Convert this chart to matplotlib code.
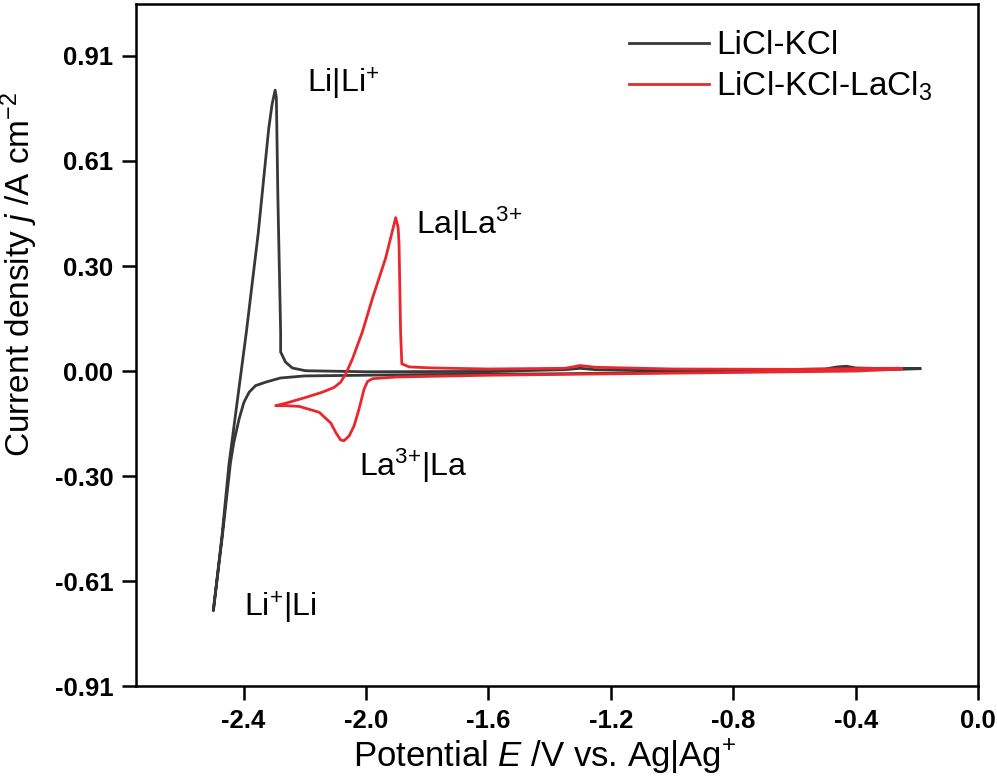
import matplotlib
matplotlib.use("Agg")
import matplotlib.pyplot as plt
import numpy as np

# LiCl-KCl (blank), one CV cycle
licl_x = [-0.19, -0.30, -0.40, -0.44, -0.48, -0.60, -0.80, -1.00, -1.20, -1.40,
          -1.60, -1.80, -2.00, -2.10, -2.20, -2.28, -2.328, -2.361, -2.382,
          -2.399, -2.415, -2.432, -2.443, -2.470, -2.499,
          -2.470, -2.448, -2.391, -2.352, -2.318, -2.307, -2.297,
          -2.293, -2.288, -2.279, -2.279, -2.263, -2.241, -2.198, -2.00,
          -1.60, -1.35, -1.30, -1.25, -1.00, -0.80, -0.50, -0.46, -0.43,
          -0.40, -0.30, -0.19]
licl_y = [0.007, 0.004, 0.004, 0.008, 0.003, 0.000, -0.002, -0.004, -0.006, -0.008,
          -0.009, -0.010, -0.012, -0.013, -0.014, -0.020, -0.032, -0.042, -0.061,
          -0.090, -0.139, -0.206, -0.265, -0.480, -0.692,
          -0.470, -0.270, 0.113, 0.400, 0.700, 0.770, 0.811,
          0.790, 0.500, 0.113, 0.055, 0.026, 0.009, 0.001, -0.002,
          -0.001, 0.004, 0.008, 0.004, 0.002, 0.002, 0.006, 0.012, 0.014,
          0.009, 0.007, 0.007]

# LiCl-KCl-LaCl3
lacl_x = [-0.25, -0.40, -0.80, -1.20, -1.60, -1.90, -1.979, -1.995, -2.006,
          -2.023, -2.039, -2.055, -2.072, -2.083, -2.099, -2.115, -2.153,
          -2.218, -2.260, -2.295,
          -2.251, -2.197, -2.143, -2.104, -2.083, -2.066, -2.044, -2.012,
          -1.979, -1.936, -1.914, -1.903, -1.895, -1.892, -1.887, -1.883,
          -1.859, -1.783, -1.60, -1.35, -1.30, -1.25, -1.00, -0.60, -0.30, -0.25]
lacl_y = [0.006, 0.000, -0.004, -0.008, -0.012, -0.017, -0.022, -0.030, -0.051,
          -0.110, -0.158, -0.187, -0.201, -0.199, -0.177, -0.150, -0.119,
          -0.102, -0.100, -0.100,
          -0.090, -0.076, -0.061, -0.047, -0.032, -0.008, 0.036, 0.113,
          0.210, 0.326, 0.404, 0.443, 0.414, 0.365, 0.113, 0.021,
          0.012, 0.009, 0.006, 0.008, 0.016, 0.011, 0.006, 0.005, 0.008, 0.008]

xticks = [-2.4, -2.0, -1.6, -1.2, -0.8, -0.4, 0.0]
yticks = [-0.91, -0.6067, -0.3033, 0.0, 0.3033, 0.6067, 0.91]

plt.rcParams['font.family'] = ['Liberation Sans', 'DejaVu Sans']
plt.rcParams['mathtext.fontset'] = 'custom'
plt.rcParams['mathtext.rm'] = 'Liberation Sans'
plt.rcParams['mathtext.it'] = 'Liberation Sans:italic'
plt.rcParams['mathtext.default'] = 'regular'

fig = plt.figure(figsize=(9.97, 7.79), dpi=100)
ax = fig.add_axes([0.136, 0.119, 0.845, 0.876])

ax.plot(licl_x, licl_y, color='#383838', lw=2.0, label='LiCl-KCl')
ax.plot(lacl_x, lacl_y, color='#e8282d', lw=2.0, label='LiCl-KCl-LaCl$_3$')

ax.set_xlim(-2.753, 0.0)
ax.set_ylim(-0.91, 1.06)
ax.set_xticks(xticks)
ax.set_xticklabels(['%.1f' % v for v in xticks])
ax.set_yticks(yticks)
ax.set_yticklabels(['%.2f' % v for v in yticks])

for s in ax.spines.values():
    s.set_linewidth(1.8)
ax.tick_params(direction='out', length=10, width=1.8, pad=6, labelsize=18.5)
for lab in ax.get_xticklabels() + ax.get_yticklabels():
    lab.set_fontweight('bold')

ax.set_xlabel('Potential $\\mathit{E}$ /V vs. Ag|Ag$^{+}$', fontsize=25)
ax.set_ylabel('Current density $\\mathit{j}$ /A cm$^{-2}$', fontsize=24)
ax.xaxis.set_label_coords(0.486, -0.075)
ax.yaxis.set_label_coords(-0.114, 0.604)

ax.text(-2.192, 0.805, 'Li|Li$^{+}$', fontsize=23, ha='left', va='baseline')
ax.text(-1.838, 0.395, 'La|La$^{3{+}}$', fontsize=23, ha='left', va='baseline')
ax.text(-2.022, -0.302, 'La$^{3{+}}$|La', fontsize=23, ha='left', va='baseline')
ax.text(-2.398, -0.709, 'Li$^{+}$|Li', fontsize=23, ha='left', va='baseline')

ax.legend(loc='upper left', bbox_to_anchor=(0.5696, 0.981), frameon=False,
          fontsize=24, handlelength=2.4, handletextpad=0.22, labelspacing=0.25,
          borderaxespad=0.0, borderpad=0.4)

fig.savefig('out.png', dpi=100)
